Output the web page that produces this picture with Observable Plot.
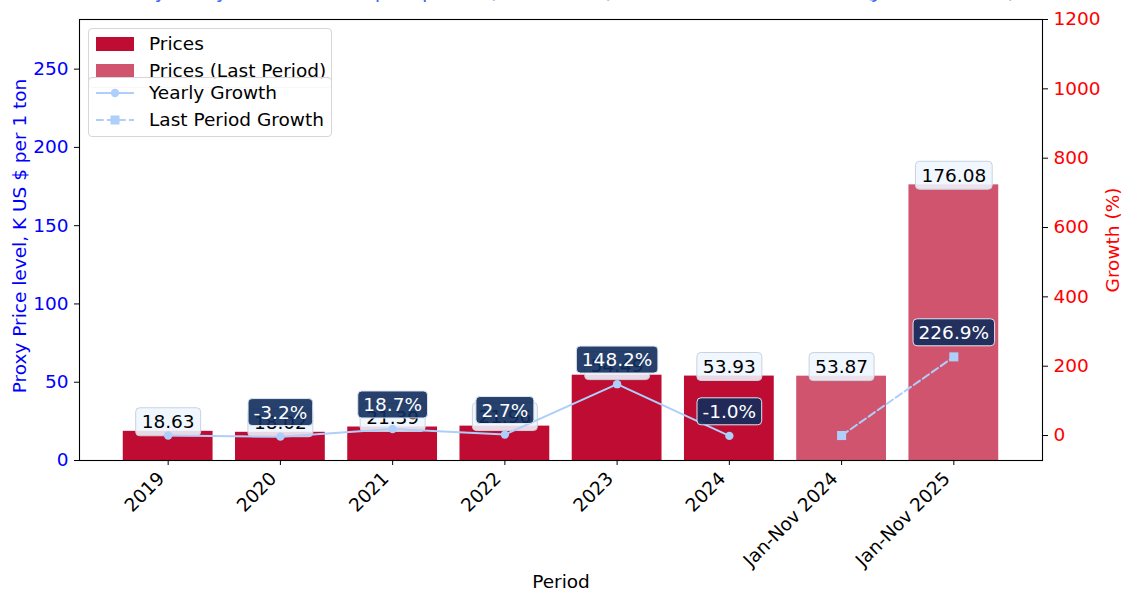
<!DOCTYPE html>
<html>
<head>
<meta charset="utf-8">
<script src="https://cdn.jsdelivr.net/npm/d3@7"></script>
<script src="https://cdn.jsdelivr.net/npm/@observablehq/plot@0.6"></script>
<style>
  html, body { margin: 0; padding: 0; background: white; overflow: hidden; }
  #wrap { position: relative; width: 1122px; height: 592px; font-family: "DejaVu Sans", sans-serif; overflow: hidden; }
  #title { position: absolute; left: 0; top: -19px; width: 1122px; text-align: center; font-size: 20px; line-height: 20px; color: #3a6cf6; white-space: nowrap; }
  .legend { position: absolute; left: 88px; width: 244px; border: 1px solid #d6d6d6; border-radius: 4px; background: rgba(255,255,255,0.8); box-sizing: border-box; }
  .item { position: absolute; left: 60px; font-size: 18.5px; line-height: 20px; color: #000; white-space: nowrap; }
  .sw { position: absolute; left: 7px; width: 38px; height: 14px; }
  .ln { position: absolute; left: 7px; width: 38px; height: 12px; }
</style>
</head>
<body>
<div id="wrap">
  <div id="title">Yearly Proxy Price level, Import prices (2019-2024), and Last Period Growth (Jan-Nov 2025)</div>
  <div id="chart"></div>
  <div class="legend" style="top:28px;height:60px;">
    <div class="sw" style="top:8px;background:#be0c32;"></div>
    <div class="item" style="top:5px;">Prices</div>
    <div class="sw" style="top:35px;background:#be0c32;opacity:0.7;"></div>
    <div class="item" style="top:32px;">Prices (Last Period)</div>
  </div>
  <div class="legend" style="top:77px;height:60px;">
    <svg class="ln" style="top:9px;" viewBox="0 0 38 12"><line x1="0" y1="6" x2="38" y2="6" stroke="#aecffa" stroke-width="2"/><circle cx="19" cy="6" r="4.2" fill="#aecffa"/></svg>
    <div class="item" style="top:5px;">Yearly Growth</div>
    <svg class="ln" style="top:36px;" viewBox="0 0 38 12"><line x1="0" y1="6" x2="38" y2="6" stroke="#aecffa" stroke-width="2" stroke-dasharray="7.7,3.3"/><rect x="14.5" y="1.5" width="9" height="9" fill="#aecffa"/></svg>
    <div class="item" style="top:32px;">Last Period Growth</div>
  </div>
</div>
<script>
// ---- data ----
const categories = ["2019", "2020", "2021", "2022", "2023", "2024", "Jan-Nov 2024", "Jan-Nov 2025"];
const prices = [18.63, 18.02, 21.39, 21.96, 54.49, 53.93, 53.87, 176.08];
const lastPeriodFlags = [false, false, false, false, false, false, true, true];
const yearlyGrowth = [0, -3.2, 18.7, 2.7, 148.2, -1.0];          // 2019..2024
const lastPeriodGrowth = [0, 226.9];                              // Jan-Nov 2024, Jan-Nov 2025
const leftTicks = [0, 50, 100, 150, 200, 250];
const rightTicks = [0, 200, 400, 600, 800, 1000, 1200];

// ---- scales helpers ----
const YMAX = 281.7;
const G0 = -72, G1 = 1200;
const toY = v => (v - G0) / (G1 - G0) * YMAX;
const fromY = y => y / YMAX * (G1 - G0) + G0;

const bars = categories.map((c, i) => ({i, cat: c, price: prices[i], last: lastPeriodFlags[i]}));
const yearly = yearlyGrowth.map((g, i) => ({i, g}));
const lastP = lastPeriodGrowth.map((g, k) => ({i: 6 + k, g}));
const growthLabelData = [...yearly.filter(d => d.i > 0), ...lastP.filter(d => d.i > 6)];

const lineColor = "#aecffa";
const barColor = "#be0c32";

const chart = Plot.plot({
  width: 1122,
  height: 592,
  marginLeft: 79,
  marginRight: 80,
  marginTop: 19,
  marginBottom: 132,
  x: {type: "linear", domain: [-0.79, 7.79], axis: null},
  y: {domain: [0, YMAX], axis: null},
  style: {fontFamily: "DejaVu Sans", fontSize: "18.5px", background: "white", overflow: "visible"},
  marks: [
    Plot.rect(bars.filter(d => !d.last), {x1: d => d.i - 0.4, x2: d => d.i + 0.4, y1: 0, y2: "price", fill: barColor}),
    Plot.rect(bars.filter(d => d.last), {x1: d => d.i - 0.4, x2: d => d.i + 0.4, y1: 0, y2: "price", fill: barColor, fillOpacity: 0.7}),
    Plot.text(bars, {x: "i", y: "price", text: d => d.price.toFixed(2), dy: -9, fill: "black", ariaDescription: "price-labels"}),
    Plot.line(yearly, {x: "i", y: d => toY(d.g), stroke: lineColor, strokeWidth: 2}),
    Plot.dot(yearly, {x: "i", y: d => toY(d.g), r: 4.2, fill: lineColor, stroke: "none"}),
    Plot.line(lastP, {x: "i", y: d => toY(d.g), stroke: lineColor, strokeWidth: 2, strokeDasharray: "7.7,3.3"}),
    Plot.dot(lastP, {x: "i", y: d => toY(d.g), r: 5.1, symbol: "square", fill: lineColor, stroke: "none"}),
    Plot.text(growthLabelData, {x: "i", y: d => toY(d.g), text: d => d.g.toFixed(1) + "%", dy: -24, fill: "white", ariaDescription: "growth-labels"}),
    Plot.frame({stroke: "black", strokeWidth: 1.1}),
    Plot.axisY({ticks: leftTicks, anchor: "left", tickSize: 5, tickPadding: 6, stroke: "black", fill: "blue", label: null}),
    Plot.axisY({ticks: rightTicks.map(toY), tickFormat: d => String(Math.round(fromY(d))), anchor: "right", tickSize: 5, tickPadding: 6, stroke: "black", fill: "red", label: null}),
    Plot.axisX({ticks: d3.range(categories.length), tickFormat: () => "", tickSize: 5, stroke: "black", label: null}),
    Plot.text(categories, {x: (d, i) => i, frameAnchor: "bottom", rotate: -45, textAnchor: "end", lineAnchor: "top", dx: -12, dy: 10, fill: "black"}),
    Plot.text(["Proxy Price level, K US $ per 1 ton"], {frameAnchor: "left", textAnchor: "middle", lineAnchor: "middle", dx: -59.5, dy: -4, rotate: -90, fill: "blue"}),
    Plot.text(["Growth (%)"], {frameAnchor: "right", textAnchor: "middle", lineAnchor: "middle", dx: 70.5, rotate: -90, fill: "red"}),
    Plot.text(["Period"], {frameAnchor: "bottom", dy: 127, fill: "black"})
  ]
});
document.getElementById("chart").appendChild(chart);

function addBoxes(desc, o) {
  const g = chart.querySelector(`g[aria-description="${desc}"]`);
  if (!g) return;
  const ns = "http://www.w3.org/2000/svg";
  g.querySelectorAll("text").forEach(t => {
    const b = t.getBBox();
    const r = document.createElementNS(ns, "rect");
    r.setAttribute("x", b.x - o.padX);
    r.setAttribute("y", b.y - o.padY);
    r.setAttribute("width", b.width + 2 * o.padX);
    r.setAttribute("height", b.height + 2 * o.padY);
    r.setAttribute("rx", 4);
    r.setAttribute("fill", o.fill);
    r.setAttribute("fill-opacity", o.fillOpacity);
    r.setAttribute("stroke", o.stroke);
    r.setAttribute("stroke-width", 1);
    if (t.getAttribute("transform")) r.setAttribute("transform", t.getAttribute("transform"));
    g.insertBefore(r, t);
  });
}
addBoxes("price-labels", {padX: 6, padY: 3.5, fill: "#eff6fe", fillOpacity: 0.88, stroke: "#c9d2de"});
addBoxes("growth-labels", {padX: 5.5, padY: 3, fill: "#0f2c5c", fillOpacity: 0.9, stroke: "#dfe6f1"});
</script>
</body>
</html>
